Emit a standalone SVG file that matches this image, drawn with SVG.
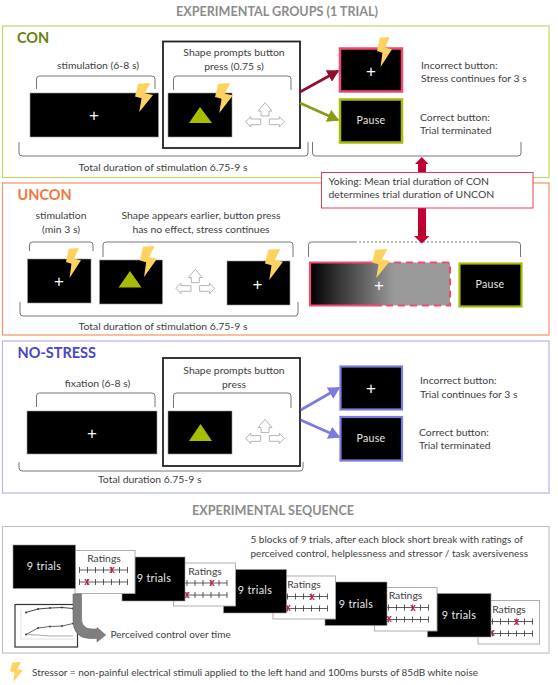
<svg xmlns="http://www.w3.org/2000/svg" xmlns:xlink="http://www.w3.org/1999/xlink" width="558" height="685" viewBox="0 0 558 685">
<style>
text{font-family:"Lato","Open Sans","Liberation Sans",sans-serif;font-size:10.4px;fill:#404040}
.c{text-anchor:middle}
.s{font-size:10px}
.h{font-size:12.6px;font-weight:700;fill:#8c8c8c}
.g{font-size:14.5px;font-weight:700}
.w{fill:#e8e8e8;font-size:10.6px;text-anchor:middle;letter-spacing:.3px}
.wl{fill:#e8e8e8;font-size:10.8px;text-anchor:middle;letter-spacing:.3px}
.p{fill:#fff;font-size:17px;font-weight:400;text-anchor:middle;font-family:"Liberation Sans",sans-serif}
.k{fill:#000;stroke:#999;stroke-width:.6}
.panel{fill:#fff;stroke-width:1.2}
.br{fill:none;stroke:#666;stroke-width:.9}
.tri{fill:#a9bd00}
.big{fill:#fff;stroke:#222;stroke-width:1.8}
.rt{fill:#fff;stroke:#a6a6a6;stroke-width:.9}
.sc{fill:none;stroke:#333;stroke-width:.8}
.x{fill:#c02048;font-size:10px;font-weight:700;text-anchor:middle;font-family:"Liberation Sans",sans-serif}
.a{fill:none;stroke-width:2.6}
</style>
<defs>
<symbol id="bolt" viewBox="0 0 55 90" preserveAspectRatio="none"><path d="M10 2L47 0L30 32L55 37L13 90L20 47L0 42Z" fill="#fdd25f"/></symbol>
<g id="btn" fill="#fff" stroke="#aaa" stroke-width=".9">
<path d="M0 0L7 8.3H4V13.3H-4V8.3H-7Z"/>
<path d="M-19.3 19L-14.3 14V16.3H-4.3V22H-14.3V24.3Z"/>
<path d="M19.3 19L14.3 14V16.3H4.3V22H14.3V24.3Z"/>
</g>
<g id="scales">
<path class="sc" d="M0 0H48M0 12H48M0-3V3M8-3V3M16-3V3M24-3V3M32-3V3M40-3V3M48-3V3M0 9V15M8 9V15M16 9V15M24 9V15M32 9V15M40 9V15M48 9V15"/>
</g>
<linearGradient id="fade" x1="0" x2="1" y1="0" y2="0"><stop offset="0" stop-color="#000"/><stop offset=".6" stop-color="#9a9a9a"/><stop offset="1" stop-color="#9a9a9a"/></linearGradient>
<marker id="mRed" markerWidth="5" markerHeight="5" refX="4" refY="2.5" orient="auto" markerUnits="strokeWidth"><path d="M0 0L4.5 2.5L0 5Z" fill="#8f0f2e"/></marker>
<marker id="mGrn" markerWidth="5" markerHeight="5" refX="4" refY="2.5" orient="auto" markerUnits="strokeWidth"><path d="M0 0L4.5 2.5L0 5Z" fill="#8a9b12"/></marker>
<marker id="mBlu" markerWidth="5" markerHeight="5" refX="4" refY="2.5" orient="auto" markerUnits="strokeWidth"><path d="M0 0L4.5 2.5L0 5Z" fill="#7b7be0"/></marker>
</defs>
<rect width="558" height="685" fill="#fff"/>

<text class="h c" x="277" y="16">EXPERIMENTAL GROUPS (1 TRIAL)</text>

<g id="con-panel">
<rect class="panel" x="2.5" y="26" width="546.5" height="151.5" stroke="#c3d56a"/>
<text class="g" x="17" y="43" style="fill:#6b7f10">CON</text>
</g>
<g id="uncon-panel">
<rect class="panel" x="2.5" y="183" width="546.5" height="152" stroke="#f4936a"/>
<text class="g" x="17.5" y="200" style="fill:#f07840">UNCON</text>
</g>
<g id="nostress-panel">
<rect class="panel" x="2.5" y="341" width="546.5" height="152" stroke="#b4b4ee"/>
<text class="g" x="17.5" y="358" style="fill:#4646c8">NO-STRESS</text>
</g>

<g id="con-stimulation">
<text class="c" x="98" y="69">stimulation (6-8 s)</text>
<path class="br" d="M36.5 89V79Q36.5 76 39.5 76H152Q155 76 155 79V89"/>
<rect class="k" x="30" y="93" width="128.5" height="44"/>
<text class="p" x="94" y="121">+</text>
<use href="#bolt" x="135" y="83" width="18" height="29"/>
</g>
<g id="con-prompt">
<rect class="big" x="163" y="41.5" width="137" height="106.5"/>
<text class="c" x="234" y="56">Shape prompts button</text>
<text class="c" x="234" y="70">press (0.75 s)</text>
<path class="br" d="M173.5 90V79Q173.5 76 176.500 76H288Q291 76 291 79V90"/>
<rect class="k" x="168" y="93" width="64" height="44"/>
<path class="tri" d="M200 107L212 123H189Z"/>
<use href="#bolt" x="215" y="83" width="18" height="30"/>
<use href="#btn" x="265" y="102.700"/>
</g>
<g id="con-total">
<path class="br" d="M19 142V153Q19 156 22 156H305Q308 156 308 153V142"/>
<text class="c" x="163" y="171">Total duration of stimulation 6.75-9 s</text>
<path class="br" d="M312.500 142V153Q312.500 156 315.500 156H518Q521 156 521 153V142"/>
</g>
<g id="con-incorrect">
<rect x="340" y="48.500" width="62" height="43" fill="#000" stroke="#f04a6e" stroke-width="2.500"/>
<text class="p" x="371" y="76.500">+</text>
<use href="#bolt" x="377" y="37" width="15" height="30"/>
<text x="421" y="69">Incorrect button:</text>
<text x="421" y="82">Stress continues for 3 s</text>
</g>
<g id="con-correct">
<rect x="340" y="99.500" width="62" height="43" fill="#000" stroke="#a9bd00" stroke-width="2.500"/>
<text class="w" x="371" y="124">Pause</text>
<text x="420" y="120.500">Correct button:</text>
<text x="420" y="134">Trial terminated</text>
</g>

<g id="uncon-stimulation">
<text class="c" x="61" y="219">stimulation</text>
<text class="c" x="61" y="233">(min 3 s)</text>
<path class="br" d="M29.500 251V245Q29.500 242 32.500 242H90Q93 242 93 245V251"/>
<rect class="k" x="27.500" y="259" width="63.500" height="44"/>
<text class="p" x="59" y="287">+</text>
<use href="#bolt" x="66" y="248" width="15" height="30"/>
</g>
<g id="uncon-shape">
<text class="c" x="201" y="219">Shape appears earlier, button press</text>
<text class="c" x="201" y="233">has no effect, stress continues</text>
<path class="br" d="M103 257V245Q103 242 106 242H290Q293 242 293 245V257"/>
<rect class="k" x="99.500" y="260" width="63" height="44"/>
<path class="tri" d="M130 271L141.500 287.500H118.500Z"/>
<use href="#bolt" x="140" y="246" width="17" height="31"/>
<use href="#btn" x="195.300" y="269.300"/>
<rect class="k" x="227" y="261" width="63" height="44"/>
<text class="p" x="257.500" y="289.500">+</text>
<use href="#bolt" x="265" y="249" width="18" height="31"/>
</g>
<g id="uncon-total">
<path class="br" d="M20 302V313Q20 316 23 316H295Q298 316 298 313V302"/>
<text class="c" x="163" y="329.500">Total duration of stimulation 6.75-9 s</text>
</g>
<g id="uncon-yoked">
<path class="br" d="M308.500 257V245Q308.500 242 311.500 242H355M480 242H517.500Q520.500 242 520.500 245V257"/>
<path d="M355 242H480" fill="none" stroke="#666" stroke-width=".9" stroke-dasharray="2 2"/>
<rect x="310" y="262.500" width="140" height="43" fill="url(#fade)"/>
<path d="M382 262.500H310V305.500H382" fill="none" stroke="#f04a6e" stroke-width="2.200"/>
<path d="M382 262.500H450V305.500H382" fill="none" stroke="#f04a6e" stroke-width="2.200" stroke-dasharray="7 5"/>
<text class="p" x="379" y="290.500">+</text>
<use href="#bolt" x="372" y="249" width="18" height="29"/>
<rect x="459.500" y="263.500" width="62" height="43" fill="#000" stroke="#a9bd00" stroke-width="2.200"/>
<text class="w" x="490" y="288">Pause</text>
</g>

<g id="nostress-fixation">
<text class="c" x="97.500" y="387">fixation (6-8 s)</text>
<path class="br" d="M36.500 407V396Q36.500 393 39.500 393H152Q155 393 155 396V407"/>
<rect class="k" x="27" y="411" width="130" height="43"/>
<text class="p" x="92" y="439">+</text>
</g>
<g id="nostress-prompt">
<rect class="big" x="163" y="358" width="137" height="108"/>
<text class="c" x="234" y="374">Shape prompts button</text>
<text class="c" x="234" y="388">press</text>
<path class="br" d="M173.500 408V396Q173.500 393 176.500 393H288Q291 393 291 396V408"/>
<rect class="k" x="168" y="411" width="64" height="43"/>
<path class="tri" d="M200.500 424L212 441H189Z"/>
<use href="#btn" x="265" y="419.300"/>
</g>
<g id="nostress-total">
<path class="br" d="M19 462V468Q19 471 22 471H300Q303 471 303 468V462"/>
<text x="98" y="483">Total duration 6.75-9 s</text>
</g>
<g id="nostress-incorrect">
<rect x="340.500" y="366.500" width="61.500" height="43" fill="#000" stroke="#7b7be0" stroke-width="2.200"/>
<text class="p" x="371" y="394">+</text>
<text x="420" y="384">Incorrect button:</text>
<text x="420" y="398">Trial continues for 3 s</text>
</g>
<g id="nostress-correct">
<rect x="340.500" y="417" width="61.500" height="43.500" fill="#000" stroke="#7b7be0" stroke-width="2.200"/>
<text class="w" x="371" y="442">Pause</text>
<text x="419" y="436">Correct button:</text>
<text x="419" y="449">Trial terminated</text>
</g>

<g id="connectors">
<path class="a" d="M300 92L338 71" stroke="#8f0f2e" marker-end="url(#mRed)"/>
<path class="a" d="M300 103L338 120" stroke="#8a9b12" marker-end="url(#mGrn)"/>
<path class="a" d="M300.700 410L339 388" stroke="#7b7be0" marker-end="url(#mBlu)"/>
<path class="a" d="M300.700 420L339 437" stroke="#7b7be0" marker-end="url(#mBlu)"/>
<path d="M421.800 157L428.500 164H426V173H418V164H415Z" fill="#c00030"/>
<path d="M418 208H426V236H429.500L421.800 243.500L414 236H418Z" fill="#c00030"/>
</g>
<g id="yoking">
<rect x="321.500" y="172.500" width="211.500" height="35.500" fill="#fff" stroke="#d9435f" stroke-width="1"/>
<text x="328.500" y="185">Yoking: Mean trial duration of CON</text>
<text x="328.500" y="198">determines trial duration of UNCON</text>
</g>

<text class="h c" x="273" y="515">EXPERIMENTAL SEQUENCE</text>
<g id="sequence-panel">
<rect x="2.500" y="526.500" width="546.500" height="126.500" fill="#fff" stroke="#bfbfbf" stroke-width="1.100"/>
<text class="s" x="250.500" y="543" textLength="272.500">5 blocks of 9 trials, after each block short break with ratings of</text>
<text class="s" x="250.500" y="557" textLength="277.500">perceived control, helplessness  and stressor / task aversiveness</text>
</g>

<g id="rating-5"><rect class="rt" x="478" y="600.500" width="61.500" height="43.500"/><text class="c" x="509" y="613">Ratings</text><use href="#scales" x="484.500" y="621.500"/><text class="x" x="516.500" y="624.500">x</text><text class="x" x="492" y="636">x</text></g>
<g id="block-5"><rect class="k" x="427.500" y="593.500" width="63.500" height="43.500"/><text class="wl" x="459" y="619">9 trials</text></g>
<g id="rating-4"><rect class="rt" x="374.500" y="587.500" width="62.500" height="43.500"/><text class="c" x="405.500" y="599">Ratings</text><use href="#scales" x="380.500" y="607.500"/><text class="x" x="413" y="610.500">x</text><text class="x" x="389" y="622">x</text></g>
<g id="block-4"><rect class="k" x="325" y="582" width="62" height="43.500"/><text class="wl" x="356" y="608">9 trials</text></g>
<g id="rating-3"><rect class="rt" x="273" y="576" width="62.500" height="43"/><text class="c" x="304" y="588">Ratings</text><use href="#scales" x="279.500" y="596.500"/><text class="x" x="312" y="599.500">x</text><text class="x" x="288" y="611">x</text></g>
<g id="block-3"><rect class="k" x="223.500" y="569.500" width="63" height="43.500"/><text class="wl" x="255" y="594">9 trials</text></g>
<g id="rating-2"><rect class="rt" x="173.500" y="563" width="62" height="43"/><text class="c" x="205" y="575">Ratings</text><use href="#scales" x="179" y="583"/><text class="x" x="212" y="586">x</text><text class="x" x="187" y="598">x</text></g>
<g id="block-2"><rect class="k" x="122" y="557" width="63" height="44"/><text class="wl" x="154" y="582">9 trials</text></g>
<g id="rating-1"><rect class="rt" x="75" y="550.500" width="60" height="43"/><text class="c" x="104" y="562">Ratings</text><use href="#scales" x="79.500" y="570"/><text class="x" x="112" y="573">x</text><text class="x" x="87" y="585">x</text></g>
<g id="block-1"><rect class="k" x="13" y="545" width="62.500" height="43.500"/><text class="wl" x="44" y="570">9 trials</text></g>

<g id="chart">
<rect x="15" y="604.500" width="62.500" height="42.500" fill="#fff" stroke="#333" stroke-width="1.200"/>
<path d="M21 609V639H75" fill="none" stroke="#ccc" stroke-width=".6"/>
<path d="M26 612.500L38 609L50 608L62 607.500L73 608.500" fill="none" stroke="#444" stroke-width="1" stroke-linecap="round"/>
<path d="M26 634.500L38 628L50 626.500L62 626L73 623.500" fill="none" stroke="#666" stroke-width="1"/>
<path d="M26 634.500L38 635L50 636L62 636L73 636" fill="none" stroke="#aaa" stroke-width="1"/>
<path d="M26 612.500h.01M38 609h.01M50 608h.01M62 607.500h.01M73 608.500h.01M26 634.500h.01M38 628h.01M50 626.500h.01M62 626h.01M73 623.500h.01" fill="none" stroke="#444" stroke-width="2" stroke-linecap="round"/>
</g>
<g id="perceived">
<path d="M73 594H81.500V618Q81.500 629 92 629H97V627.500L105.700 635L97 642V638.500H90Q73 638 73 620Z" fill="#7f7f7f" stroke="#666" stroke-width=".6"/>
<text class="s" x="110.500" y="638">Perceived control over time</text>
</g>
<g id="legend">
<use href="#bolt" x="10" y="662" width="13" height="20"/>
<text class="s" x="32" y="676" textLength="446">Stressor = non-painful  electrical stimuli applied to the left hand and 100ms bursts of 85dB white noise</text>
</g>
</svg>
